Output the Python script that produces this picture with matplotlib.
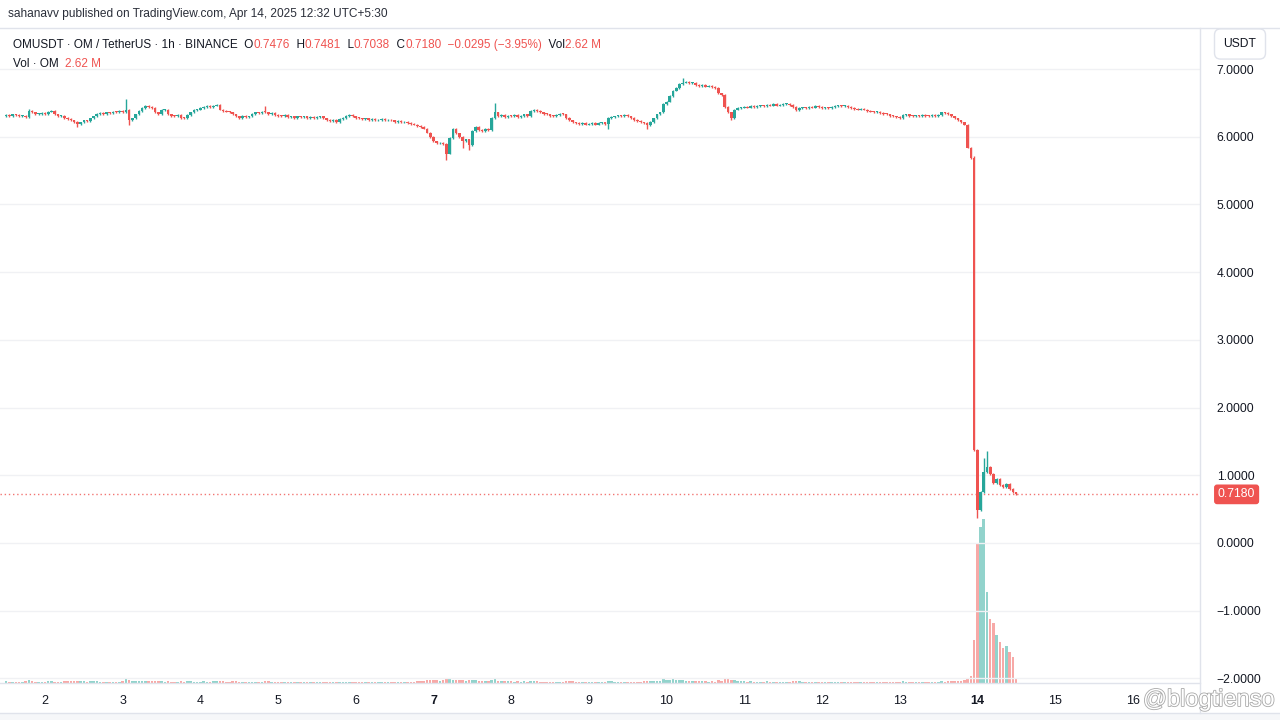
import matplotlib.pyplot as plt
import matplotlib.patheffects as pe
from matplotlib.lines import Line2D
from matplotlib.patches import Rectangle

plt.rcParams['font.family'] = ['Liberation Sans', 'DejaVu Sans']

UP = '#26a69a'
DOWN = '#ef5350'
TEXT = '#131722'
GRID = '#f0f1f4'
LINE = '#e0e3eb'

# hourly candles, first one is Apr 1 12:00 (x in days of April)
start_day = 1.5
first_open = 6.31

close_apr01 = [6.32, 6.31, 6.33, 6.32, 6.30, 6.31, 6.29, 6.38, 6.36, 6.33, 6.34, 6.35]
close_apr02 = [6.34, 6.37, 6.38, 6.33, 6.30, 6.31, 6.28, 6.26, 6.24, 6.22, 6.19, 6.21,
               6.24, 6.23, 6.27, 6.30, 6.34, 6.35, 6.33, 6.36, 6.35, 6.37, 6.36, 6.38]
close_apr03 = [6.36, 6.40, 6.24, 6.27, 6.33, 6.38, 6.42, 6.46, 6.44, 6.42, 6.36, 6.34,
               6.39, 6.40, 6.33, 6.31, 6.30, 6.32, 6.28, 6.27, 6.32, 6.36, 6.39, 6.40]
close_apr04 = [6.42, 6.44, 6.45, 6.44, 6.46, 6.47, 6.40, 6.38, 6.37, 6.36, 6.33, 6.30,
               6.28, 6.31, 6.29, 6.30, 6.34, 6.36, 6.35, 6.37, 6.36, 6.34, 6.35, 6.32]
close_apr05 = [6.31, 6.30, 6.32, 6.29, 6.30, 6.28, 6.30, 6.29, 6.30, 6.28, 6.29, 6.27,
               6.29, 6.30, 6.27, 6.25, 6.23, 6.25, 6.22, 6.26, 6.28, 6.31, 6.32, 6.30]
close_apr06 = [6.28, 6.27, 6.26, 6.27, 6.25, 6.26, 6.24, 6.25, 6.26, 6.24, 6.25, 6.24,
               6.22, 6.23, 6.21, 6.22, 6.20, 6.19, 6.18, 6.16, 6.14, 6.12, 6.06, 6.00]
close_apr07 = [5.93, 5.90, 5.91, 5.89, 5.75, 5.98, 6.12, 6.05, 6.00, 5.93, 5.96, 5.88,
               6.08, 6.14, 6.10, 6.08, 6.12, 6.10, 6.28, 6.36, 6.30, 6.32, 6.29, 6.31]
close_apr08 = [6.30, 6.32, 6.29, 6.31, 6.33, 6.30, 6.38, 6.40, 6.38, 6.36, 6.34, 6.33,
               6.31, 6.30, 6.32, 6.34, 6.33, 6.28, 6.24, 6.21, 6.20, 6.19, 6.20, 6.18]
close_apr09 = [6.19, 6.20, 6.18, 6.20, 6.21, 6.19, 6.28, 6.29, 6.30, 6.31, 6.30, 6.32,
               6.30, 6.28, 6.25, 6.23, 6.21, 6.20, 6.17, 6.22, 6.27, 6.33, 6.36, 6.48]
close_apr10 = [6.52, 6.60, 6.68, 6.72, 6.78, 6.80, 6.81, 6.79, 6.80, 6.76, 6.75, 6.76,
               6.74, 6.75, 6.73, 6.72, 6.64, 6.62, 6.44, 6.36, 6.28, 6.40, 6.42, 6.43]
close_apr11 = [6.44, 6.43, 6.45, 6.44, 6.45, 6.46, 6.45, 6.47, 6.46, 6.48, 6.46, 6.47,
               6.48, 6.49, 6.47, 6.44, 6.39, 6.42, 6.43, 6.42, 6.44, 6.43, 6.45, 6.44]
close_apr12 = [6.42, 6.43, 6.42, 6.44, 6.45, 6.46, 6.45, 6.46, 6.44, 6.42, 6.41, 6.40,
               6.41, 6.40, 6.38, 6.37, 6.36, 6.37, 6.35, 6.34, 6.33, 6.31, 6.30, 6.29]
close_apr13 = [6.28, 6.32, 6.33, 6.31, 6.30, 6.31, 6.30, 6.32, 6.31, 6.30, 6.32, 6.31,
               6.32, 6.36, 6.35, 6.33, 6.30, 6.27, 6.24, 6.21, 6.18, 5.84, 5.69, 1.37]
close_apr14 = [0.49, 0.75, 1.05, 1.12, 1.02, 0.88, 0.95, 0.86, 0.83, 0.87, 0.80, 0.7476, 0.718]

# wicks that stick out further than the usual small ones (candle index -> price)
wick_high = {7: 6.41, 37: 6.56, 80: 6.46, 151: 6.50, 209: 6.86, 299: 5.72,
             302: 1.25, 303: 1.36, 312: 0.7481}
wick_low = {22: 6.14, 38: 6.18, 136: 5.66, 141: 5.84, 143: 5.81, 186: 6.12,
            198: 6.12, 224: 6.25, 300: 0.37, 312: 0.7038}

# volume in millions OM
vol_apr01 = [0.8, 0.6, 0.7, 0.5, 0.6, 0.7, 0.9, 1.4, 1.0, 0.7, 0.6, 0.5]
vol_apr02 = [0.7, 0.9, 0.8, 0.6, 0.7, 0.6, 0.8, 0.9, 1.0, 0.8, 1.1, 0.9,
             0.8, 0.7, 0.9, 0.8, 0.9, 0.7, 0.6, 0.7, 0.6, 0.5, 0.6, 0.7]
vol_apr03 = [0.8, 2.1, 1.6, 1.0, 0.9, 1.1, 1.0, 1.2, 0.9, 0.8, 1.0, 0.8,
             0.9, 0.7, 0.8, 0.7, 0.6, 0.7, 0.8, 0.7, 0.9, 0.8, 0.7, 0.6]
vol_apr04 = [0.7, 0.8, 0.6, 0.7, 0.8, 0.9, 1.0, 0.8, 0.7, 0.6, 0.8, 0.9,
             0.7, 0.6, 0.7, 0.5, 0.7, 0.6, 0.5, 0.6, 1.2, 0.8, 0.6, 0.5]
vol_apr05 = [0.5, 0.4, 0.5, 0.6, 0.4, 0.5, 0.4, 0.5, 0.4, 0.5, 0.4, 0.5,
             0.6, 0.5, 0.4, 0.6, 0.7, 0.6, 0.7, 0.6, 0.5, 0.6, 0.5, 0.4]
vol_apr06 = [0.5, 0.4, 0.5, 0.4, 0.5, 0.4, 0.4, 0.5, 0.4, 0.5, 0.4, 0.5,
             0.6, 0.5, 0.6, 0.5, 0.6, 0.7, 0.6, 0.8, 0.9, 1.0, 1.4, 1.6]
vol_apr07 = [1.5, 1.3, 1.2, 1.4, 2.4, 2.0, 1.8, 1.5, 1.3, 1.4, 1.2, 1.5,
             1.6, 1.4, 1.2, 1.0, 1.1, 0.9, 1.8, 2.2, 1.2, 1.0, 0.9, 0.8]
vol_apr08 = [0.8, 0.7, 0.8, 0.7, 0.8, 0.7, 1.1, 1.0, 0.8, 0.7, 0.6, 0.7,
             0.6, 0.5, 0.6, 0.7, 0.6, 0.8, 0.9, 0.8, 0.7, 0.6, 0.5, 0.6]
vol_apr09 = [0.5, 0.6, 0.5, 0.6, 0.5, 0.6, 1.0, 0.8, 0.7, 0.6, 0.5, 0.6,
             0.5, 0.6, 0.7, 0.6, 0.7, 0.8, 1.0, 0.9, 1.0, 1.1, 1.2, 1.9]
vol_apr10 = [1.7, 1.8, 1.9, 1.5, 1.6, 1.4, 1.2, 1.0, 0.9, 1.0, 0.8, 0.9,
             0.8, 0.7, 0.8, 0.7, 1.3, 1.1, 1.9, 2.0, 1.8, 1.4, 1.0, 0.9]
vol_apr11 = [0.8, 0.7, 0.8, 0.6, 0.7, 0.6, 0.7, 0.8, 0.6, 0.7, 0.6, 0.7,
             0.6, 0.7, 0.6, 0.8, 1.0, 0.8, 0.7, 0.6, 0.5, 0.6, 0.5, 0.6]
vol_apr12 = [0.5, 0.6, 0.5, 0.6, 0.5, 0.6, 0.5, 0.4, 0.5, 0.6, 0.5, 0.4,
             0.5, 0.4, 0.5, 0.6, 0.5, 0.4, 0.5, 0.6, 0.5, 0.6, 0.7, 0.6]
vol_apr13 = [0.6, 0.8, 0.7, 0.6, 0.5, 0.6, 0.5, 0.6, 0.5, 0.6, 0.5, 0.6,
             0.7, 0.9, 0.7, 0.8, 0.9, 1.0, 1.1, 1.2, 1.4, 2.6, 3.4, 22.0]
vol_apr14 = [72.0, 81.0, 85.0, 47.0, 33.0, 31.0, 25.0, 21.0, 18.0, 19.0, 16.0, 13.5, 2.62]

price_ticks = [-2, -1, 0, 1, 2, 3, 4, 5, 6, 7]
day_ticks = list(range(2, 17))
bold_days = [7, 14]
last_price = 0.718

closes = (close_apr01 + close_apr02 + close_apr03 + close_apr04 + close_apr05 + close_apr06 +
          close_apr07 + close_apr08 + close_apr09 + close_apr10 + close_apr11 + close_apr12 +
          close_apr13 + close_apr14)
volumes = (vol_apr01 + vol_apr02 + vol_apr03 + vol_apr04 + vol_apr05 + vol_apr06 +
           vol_apr07 + vol_apr08 + vol_apr09 + vol_apr10 + vol_apr11 + vol_apr12 +
           vol_apr13 + vol_apr14)

opens = [first_open] + closes[:-1]
t = [start_day + i / 24 for i in range(len(closes))]
highs = [wick_high.get(i, max(o, c) + 0.012) for i, (o, c) in enumerate(zip(opens, closes))]
lows = [wick_low.get(i, min(o, c) - 0.012) for i, (o, c) in enumerate(zip(opens, closes))]
colors = [UP if c >= o else DOWN for o, c in zip(opens, closes)]
vol_colors = ['#92d3cc' if c == UP else '#f7a9a7' for c in colors]

W, H = 1280, 720
fig = plt.figure(figsize=(12.8, 7.2), dpi=100)
fig.patch.set_facecolor('white')

ax = fig.add_axes([0, 37 / H, 1200 / W, 653 / H])
vax = ax.twinx()

# volume overlay at the bottom of the pane
vax.bar(t, volumes, width=0.78 / 24, color=vol_colors, linewidth=0)
vax.set_ylim(0, 338)
vax.set_yticks([])
for s in vax.spines.values():
    s.set_visible(False)

ax.set_zorder(vax.get_zorder() + 1)
ax.patch.set_visible(False)

# candles
ax.vlines(t, lows, highs, colors=colors, linewidth=1.0, zorder=3)
ax.bar(t, [max(abs(c - o), 0.014) for o, c in zip(opens, closes)],
       bottom=[min(o, c) for o, c in zip(opens, closes)],
       width=0.8 / 24, color=colors, linewidth=0, zorder=4)

ax.axhline(last_price, color=DOWN, lw=1, ls=(0, (1, 2)), alpha=0.8, zorder=2)

ax.set_xlim(2 - 45 / 77.69, 2 + 1155 / 77.69)
ax.set_ylim(-2.068, 7.576)
ax.set_yticks(price_ticks)
ax.set_yticklabels([f'{v:.4f}'.replace('-', '\u2212') for v in price_ticks])
ax.yaxis.tick_right()
ax.tick_params(axis='y', length=0, pad=12, labelsize=8.7, labelcolor=TEXT)
ax.set_xticks(day_ticks)
ax.set_xticklabels([str(d) for d in day_ticks])
for lab, d in zip(ax.get_xticklabels(), day_ticks):
    if d in bold_days:
        lab.set_fontweight('bold')
ax.tick_params(axis='x', length=0, pad=9, labelsize=9, labelcolor=TEXT)
ax.grid(axis='y', color=GRID, lw=1, zorder=0)
for s in ax.spines.values():
    s.set_visible(False)

# price tag on the scale
ax.text(1.0305, last_price, f'{last_price:.4f}', transform=ax.get_yaxis_transform(),
        ha='center', va='center', color='white', fontsize=8.7, clip_on=False, zorder=10,
        bbox=dict(boxstyle='round,pad=0.32,rounding_size=0.25', fc=DOWN, ec='none'))

# pane separators
fig.add_artist(Line2D([0, 1], [1 - 28 / H, 1 - 28 / H], color=LINE, lw=1))
fig.add_artist(Line2D([1200 / W, 1200 / W], [1 - 713 / H, 1 - 28 / H], color=LINE, lw=1))
fig.add_artist(Line2D([0, 1200 / W], [37 / H, 37 / H], color=LINE, lw=1))
fig.add_artist(Line2D([0, 1], [7 / H, 7 / H], color=LINE, lw=1))
fig.add_artist(Rectangle((0, 0), 1, 7 / H, transform=fig.transFigure, color='#f6f7f9', lw=0))

fig.text(1240 / W, 1 - 44 / H, 'USDT', ha='center', va='center', fontsize=8.7, color=TEXT,
         bbox=dict(boxstyle='round,pad=0.75,rounding_size=0.5', fc='white', ec=LINE, lw=1))


def chain(parts, x, y, size):
    prev = None
    for s, c in parts:
        if prev is None:
            prev = ax.annotate(s, xy=(x, H - y), xycoords='figure pixels', va='center',
                               ha='left', fontsize=size, color=c, annotation_clip=False)
        else:
            prev = ax.annotate(s, xy=(1, 0.5), xycoords=prev, va='center', ha='left',
                               fontsize=size, color=c, annotation_clip=False)


chain([('sahanavv published on TradingView.com, Apr 14, 2025 12:32 UTC+5:30', '#2a2e39')],
      8, 14, 8.6)
chain([('OMUSDT \u00b7 OM / TetherUS \u00b7 1h \u00b7 BINANCE  O', TEXT), ('0.7476', DOWN),
       ('  H', TEXT), ('0.7481', DOWN), ('  L', TEXT), ('0.7038', DOWN),
       ('  C', TEXT), ('0.7180', DOWN), ('  \u22120.0295 (\u22123.95%)', DOWN),
       ('  Vol', TEXT), ('2.62 M', DOWN)], 13, 45, 8.5)
chain([('Vol \u00b7 OM  ', TEXT), ('2.62 M', DOWN)], 13, 64, 8.5)

# watermark
fig.text(1143 / W, 1 - 700 / H, '@blogtienso', ha='left', va='center', fontsize=17,
         color='white', zorder=20,
         path_effects=[pe.withStroke(linewidth=1.2, foreground='#a9a9a9')])

fig.savefig('out.png', dpi=100)
